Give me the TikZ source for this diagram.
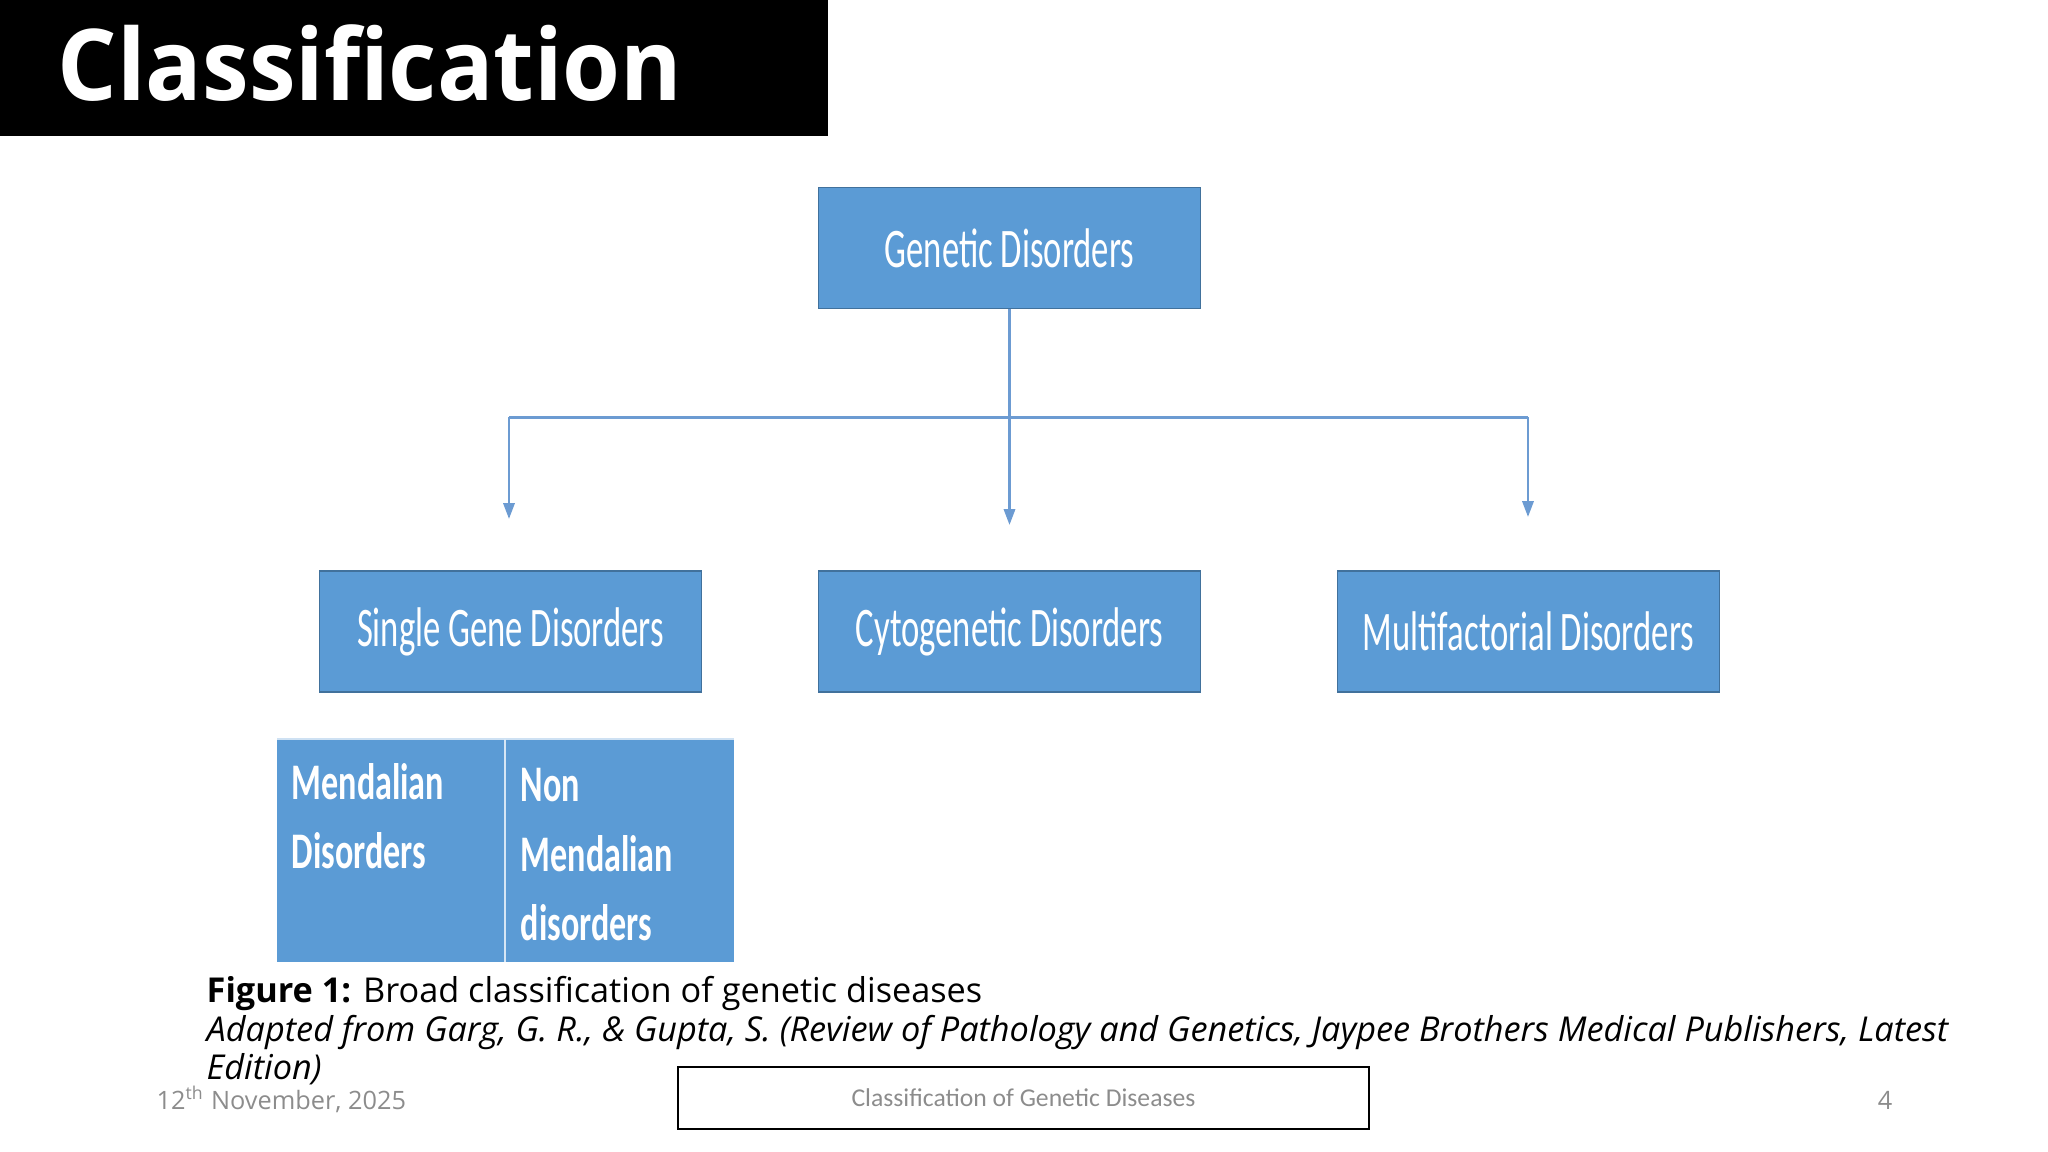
\documentclass[tikz,border=0pt]{standalone}
\usepackage{fontspec}
\setmainfont{Open Sans}
\newfontfamily\titlefont[FakeStretch=0.945]{Open Sans}
\newfontfamily\boxfont[FakeStretch=0.62]{Carlito}
\newfontfamily\cellfont[FakeStretch=0.665]{Carlito}
\newfontfamily\footfont{Carlito}
\usepackage{xcolor}
\usetikzlibrary{arrows.meta,positioning}

\definecolor{boxblue}{HTML}{5B9BD5}
\definecolor{boxedge}{HTML}{41719C}
\definecolor{linkblue}{HTML}{6C9BD2}
\definecolor{footgray}{HTML}{8C8C8C}

\begin{document}
\begin{tikzpicture}[
        catbox/.style={rectangle, draw=boxedge, line width=0.5pt, fill=boxblue, text=white, minimum width=3.82cm, minimum height=1.21cm, inner sep=0pt, font=\boxfont\fontsize{15.9}{19}\selectfont},
        cell/.style={anchor=base west, inner sep=0pt, text=white, align=left, font=\cellfont\bfseries\fontsize{14.6}{19.9}\selectfont},
        capline/.style={anchor=base west, inner sep=0pt, font=\fontsize{9.75}{12}\selectfont},
        foot/.style={inner sep=0pt, text=footgray},
        link/.style={draw=linkblue, line width=0.7pt},
        branch/.style={link, -{Triangle[length=4.5pt,width=3.2pt]}}
    ]
        \useasboundingbox (0,0) rectangle (20.48,11.52);

        % Title bar
        \fill[black] (0,11.52) rectangle (8.28,10.16);
        \node[anchor=base west, inner sep=0pt, text=white, font=\titlefont\bfseries\fontsize{28.2}{34}\selectfont] (title) at (0.57,10.51) {Classification};

        % Nodes
        \node[catbox] (gen) at (10.095,9.04) {Genetic Disorders};
        \node[catbox] (single) at (5.105,5.205) {Single Gene Disorders};
        \node[catbox] (cyto) at (10.095,5.205) {Cytogenetic Disorders};
        \node[catbox] (multi) at (15.285,5.205) {Multifactorial Disorders};

        % Junction and arrow ends
        \coordinate (jl) at (5.09,7.345);
        \coordinate (jr) at (15.28,7.345);
        \coordinate (tipl) at (5.09,6.33);
        \coordinate (tipc) at (10.095,6.27);
        \coordinate (tipr) at (15.28,6.35);

        % Edges
        \draw[branch] (gen.south) -- (tipc);
        \draw[link] (jl) -- (jr);
        \draw[branch] (jl) -- (tipl);
        \draw[branch] (jr) -- (tipr);

        % Single gene split (base anchor sits on the last line)
        \fill[boxblue] (2.77,4.13) rectangle (7.34,1.90);
        \draw[white!70!boxblue, line width=0.6pt] (2.77,4.13) -- (7.34,4.13);
        \draw[white!75!boxblue, line width=0.8pt] (5.05,4.13) -- (5.05,1.90);
        \node[cell] (mend) at (2.91,2.83) {Mendalian\\Disorders};
        \node[cell] (nonmend) at (5.20,2.11) {Non\\Mendalian\\disorders};

        % Caption
        \node[capline] (cap1) at (2.06,1.49) {\textbf{Figure 1:} Broad classification of genetic diseases};
        \node[capline] (cap2) at (2.06,1.10) {\textit{Adapted from Garg, G. R., \& Gupta, S. (Review of Pathology and Genetics, Jaypee Brothers Medical Publishers, Latest}};
        \node[capline] (cap3) at (2.06,0.72) {\textit{Edition)}};

        % Footer
        \node[foot, anchor=base west, font=\fontsize{7.2}{9}\selectfont] (date) at (1.56,0.42) {12\textsuperscript{th} November, 2025};
        \node[foot, draw=black, line width=0.6pt, minimum width=6.91cm, minimum height=0.62cm, font=\footfont\fontsize{7.3}{9}\selectfont] (topic) at (10.235,0.54) {Classification of Genetic Diseases};
        \node[foot, anchor=base, font=\fontsize{7.2}{9}\selectfont] (page) at (18.85,0.42) {4};
    \end{tikzpicture}
\end{document}
